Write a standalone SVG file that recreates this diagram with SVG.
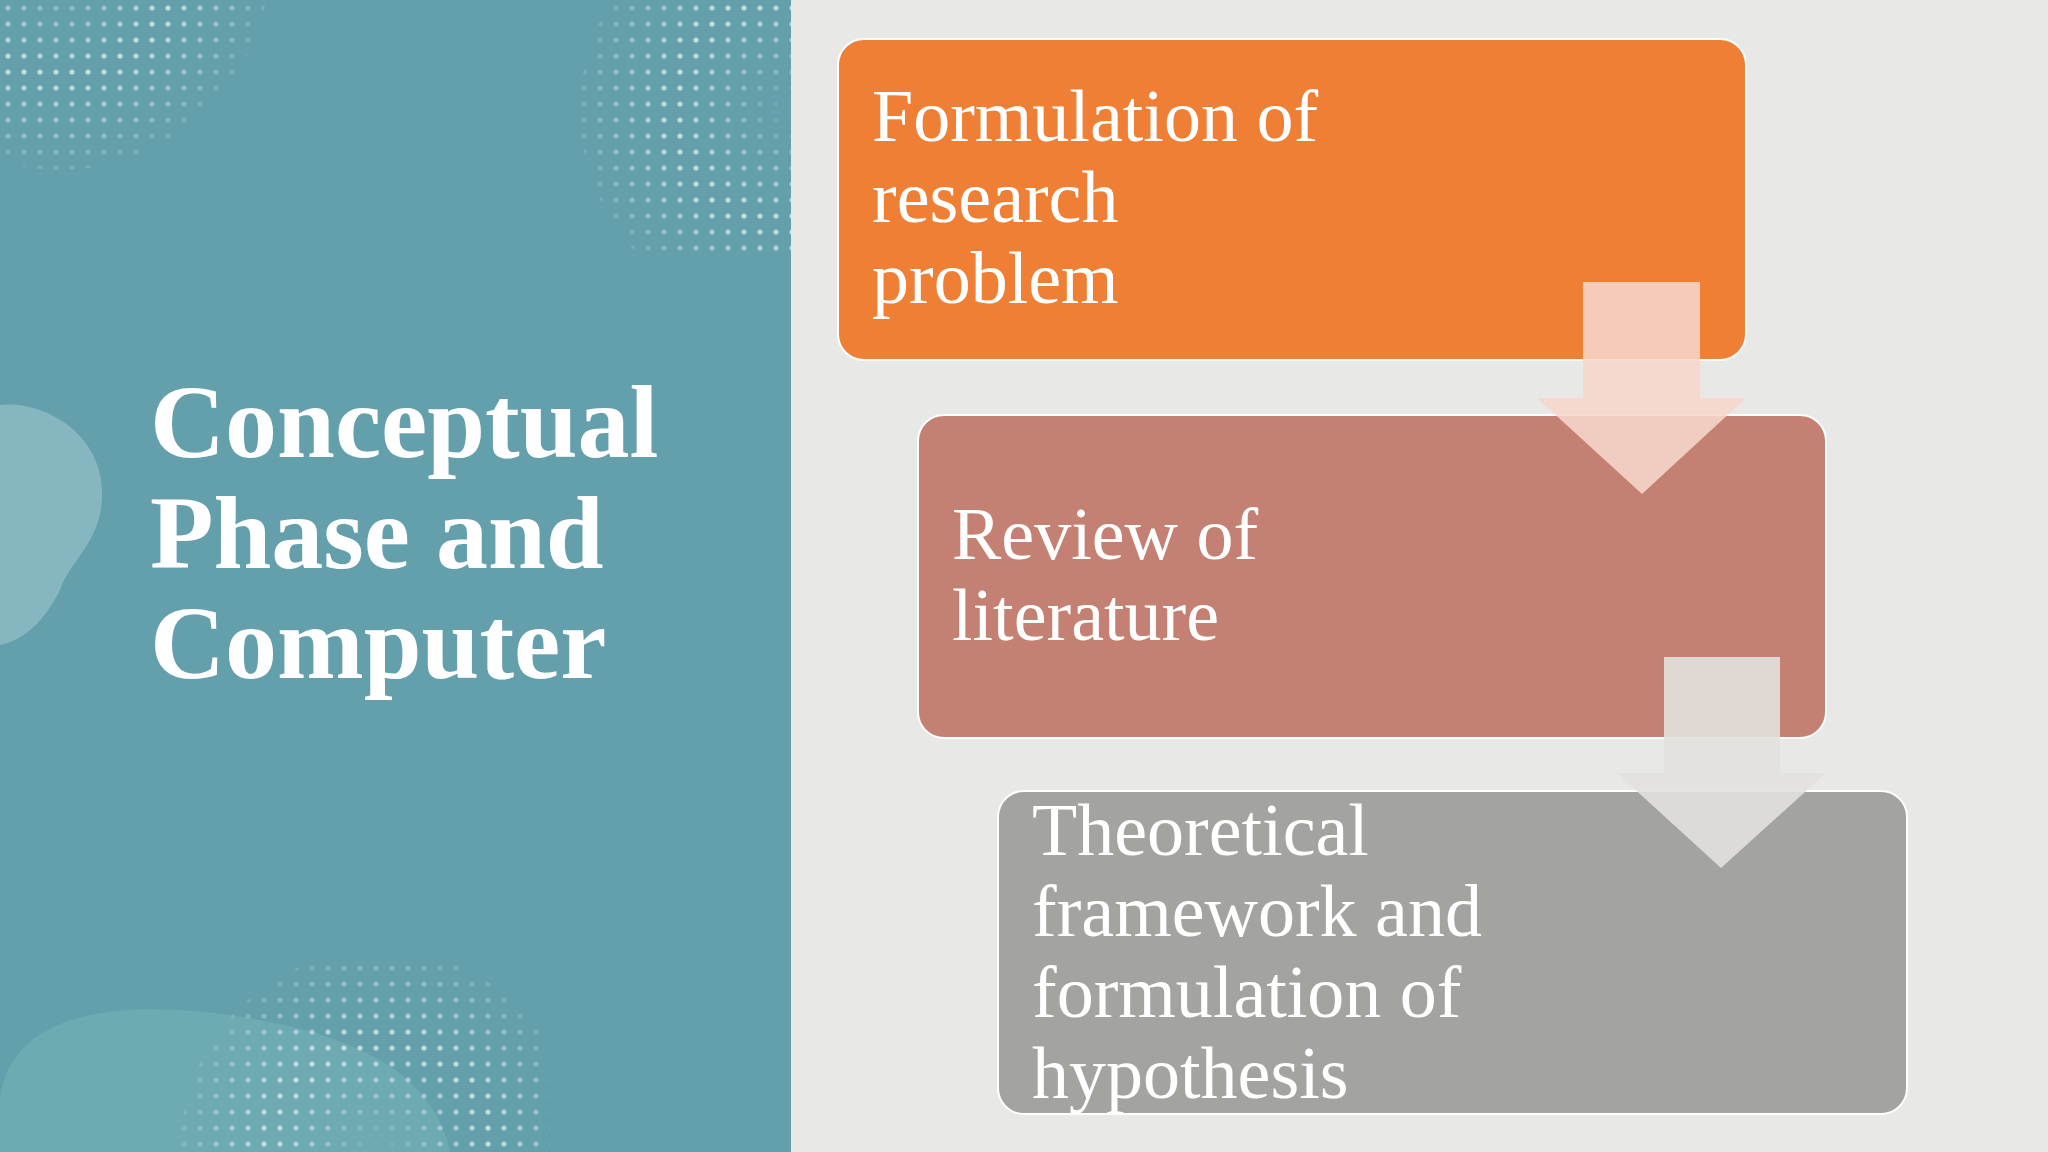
<svg xmlns="http://www.w3.org/2000/svg" width="2048" height="1152" viewBox="0 0 2048 1152">
<style>
.t{font-family:"Liberation Serif","DejaVu Serif",serif;font-size:74px;fill:#fff}
.h{font-family:"Liberation Serif","DejaVu Serif",serif;font-size:104px;font-weight:bold;fill:#fff}
.box{stroke:#fff;stroke-width:2}
</style>
<defs>
<pattern id="dots" width="16" height="16" patternUnits="userSpaceOnUse">
<circle cx="8" cy="8" r="2.6" fill="#d6e8eb" fill-opacity="0.85"/>
</pattern>
<radialGradient id="fade" cx="0.5" cy="0.5" r="0.5">
<stop offset="0" stop-color="#fff" stop-opacity="0"/>
<stop offset="0.55" stop-color="#fff" stop-opacity="1"/>
<stop offset="1" stop-color="#fff" stop-opacity="0.2"/>
</radialGradient>
<mask id="m1"><circle cx="60" cy="-40" r="210" fill="url(#fade)"/></mask>
<mask id="m2"><circle cx="790" cy="110" r="210" fill="url(#fade)"/></mask>
<mask id="m3"><circle cx="380" cy="1150" r="200" fill="url(#fade)"/></mask>
</defs>
<rect width="2048" height="1152" fill="#e8e8e6"/>
<g id="leftpanel">
<rect width="791" height="1152" fill="#64a0ab"/>
<path d="M0 405 C40 400 100 430 102 490 C104 540 70 560 60 590 C45 620 25 640 0 645 Z" fill="#86b6bf"/>
<path d="M0 1152 L0 1100 C10 1010 120 1000 230 1015 C330 1030 430 1060 450 1152 Z" fill="#6eaab2"/>
<rect x="0" y="0" width="280" height="170" fill="url(#dots)" mask="url(#m1)"/>
<rect x="580" y="0" width="211" height="260" fill="url(#dots)" mask="url(#m2)"/>
<rect x="130" y="960" width="420" height="192" fill="url(#dots)" mask="url(#m3)"/>
</g>
<g id="title">
<text class="h" x="150" y="457">Conceptual</text>
<text class="h" x="150" y="568">Phase and</text>
<text class="h" x="150" y="678">Computer</text>
</g>
<g id="node1">
<rect class="box" x="838" y="39" width="908" height="321" rx="26" fill="#ef7f35"/>
<text class="t" x="872" y="141">Formulation of</text>
<text class="t" x="872" y="222">research</text>
<text class="t" x="872" y="303">problem</text>
</g>
<g id="node2">
<rect class="box" x="918" y="415" width="908" height="323" rx="26" fill="#c48173"/>
<text class="t" x="952" y="559">Review of</text>
<text class="t" x="952" y="640">literature</text>
</g>
<g id="node3">
<rect class="box" x="998" y="791" width="909" height="323" rx="26" fill="#a3a3a0"/>
<text class="t" x="1032" y="855">Theoretical</text>
<text class="t" x="1032" y="936">framework and</text>
<text class="t" x="1032" y="1017">formulation of</text>
<text class="t" x="1032" y="1098">hypothesis</text>
</g>
<g id="connectors">
<path d="M1583 282 H1700 V398 H1746 L1642 494 L1537 398 H1583 Z" fill="#f7d6cb" fill-opacity="0.88"/>
<path d="M1664 657 H1780 V773 H1826 L1721 868 L1617 773 H1664 Z" fill="#e3e1dd" fill-opacity="0.9"/>
</g>
</svg>
